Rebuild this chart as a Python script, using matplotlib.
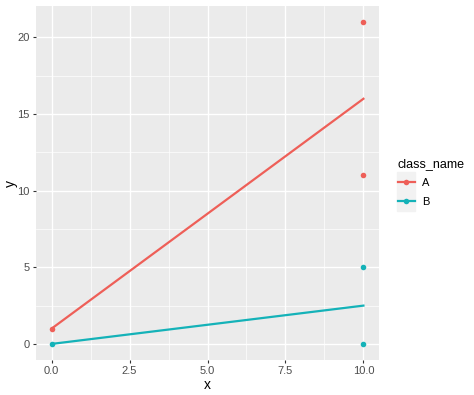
import numpy as np
import matplotlib
matplotlib.use('Agg')
import matplotlib.pyplot as plt
from matplotlib.lines import Line2D
from matplotlib.patches import Rectangle

plt.rcParams['font.family'] = ['Liberation Sans', 'DejaVu Sans']

# ---------------------------------------------------------------------------
# Data
# ---------------------------------------------------------------------------
classes = ['A', 'B']
colors = ['#EE5F58', '#14B2B8']
point_x = {'A': [0, 10, 10], 'B': [0, 10, 10]}
point_y = {'A': [1, 21, 11], 'B': [0, 5, 0]}
# fitted line end points (x=0 and x=10)
line_x = [0, 10]
line_y = {'A': [1, 16], 'B': [0, 2.5]}

x_ticks = [0.0, 2.5, 5.0, 7.5, 10.0]
y_ticks = [0, 5, 10, 15, 20]

# ---------------------------------------------------------------------------
# Figure
# ---------------------------------------------------------------------------
fig = plt.figure(figsize=(4.74, 3.95), dpi=100)
ax = fig.add_axes([0.076, 0.0886, 0.7236, 0.896])
ax.set_facecolor('#EBEBEB')

for cls, col in zip(classes, colors):
    ax.plot(line_x, line_y[cls], color=col, lw=1.6, zorder=3)
    ax.plot(point_x[cls], point_y[cls], 'o', color=col, ms=4, mec='none', zorder=4)

ax.set_xlim(-0.5, 10.5)
ax.set_ylim(-1.05, 22.05)
ax.set_xticks(x_ticks)
ax.set_xticklabels([f'{v:.1f}' for v in x_ticks])
ax.set_yticks(y_ticks)
ax.set_xticks([1.25, 3.75, 6.25, 8.75], minor=True)
ax.set_yticks([2.5, 7.5, 12.5, 17.5], minor=True)

ax.grid(which='major', color='white', lw=1.0, zorder=0)
ax.grid(which='minor', color='white', lw=0.5, zorder=0)
ax.set_axisbelow(True)
for s in ax.spines.values():
    s.set_visible(False)
ax.tick_params(which='major', length=2.5, width=0.8, color='#333333',
               labelcolor='#4D4D4D', labelsize=8, pad=2)
ax.tick_params(which='minor', length=0)

ax.set_xlabel('x', fontsize=10)
ax.set_ylabel('y', fontsize=10)
ax.xaxis.set_label_coords(0.5, -0.05)
ax.yaxis.set_label_coords(-0.052, 0.5)

# legend key background (ggplot style)
fig.patches.append(Rectangle((397 / 474, 1 - 211 / 395), 18 / 474, 39 / 395,
                             transform=fig.transFigure, color='#F2F2F2',
                             zorder=0))

handles = [Line2D([], [], color=c, lw=1.6, marker='o', ms=4, mec='none')
           for c in colors]
leg = fig.legend(handles, classes, title='class_name', loc='upper left',
                 bbox_to_anchor=(0.823, 0.62), frameon=False, fontsize=8,
                 title_fontsize=9, handlelength=1.5, handletextpad=0.7,
                 labelspacing=0.75, borderpad=0.2)
leg._legend_box.align = 'left'

fig.savefig('out.png', dpi=100)
